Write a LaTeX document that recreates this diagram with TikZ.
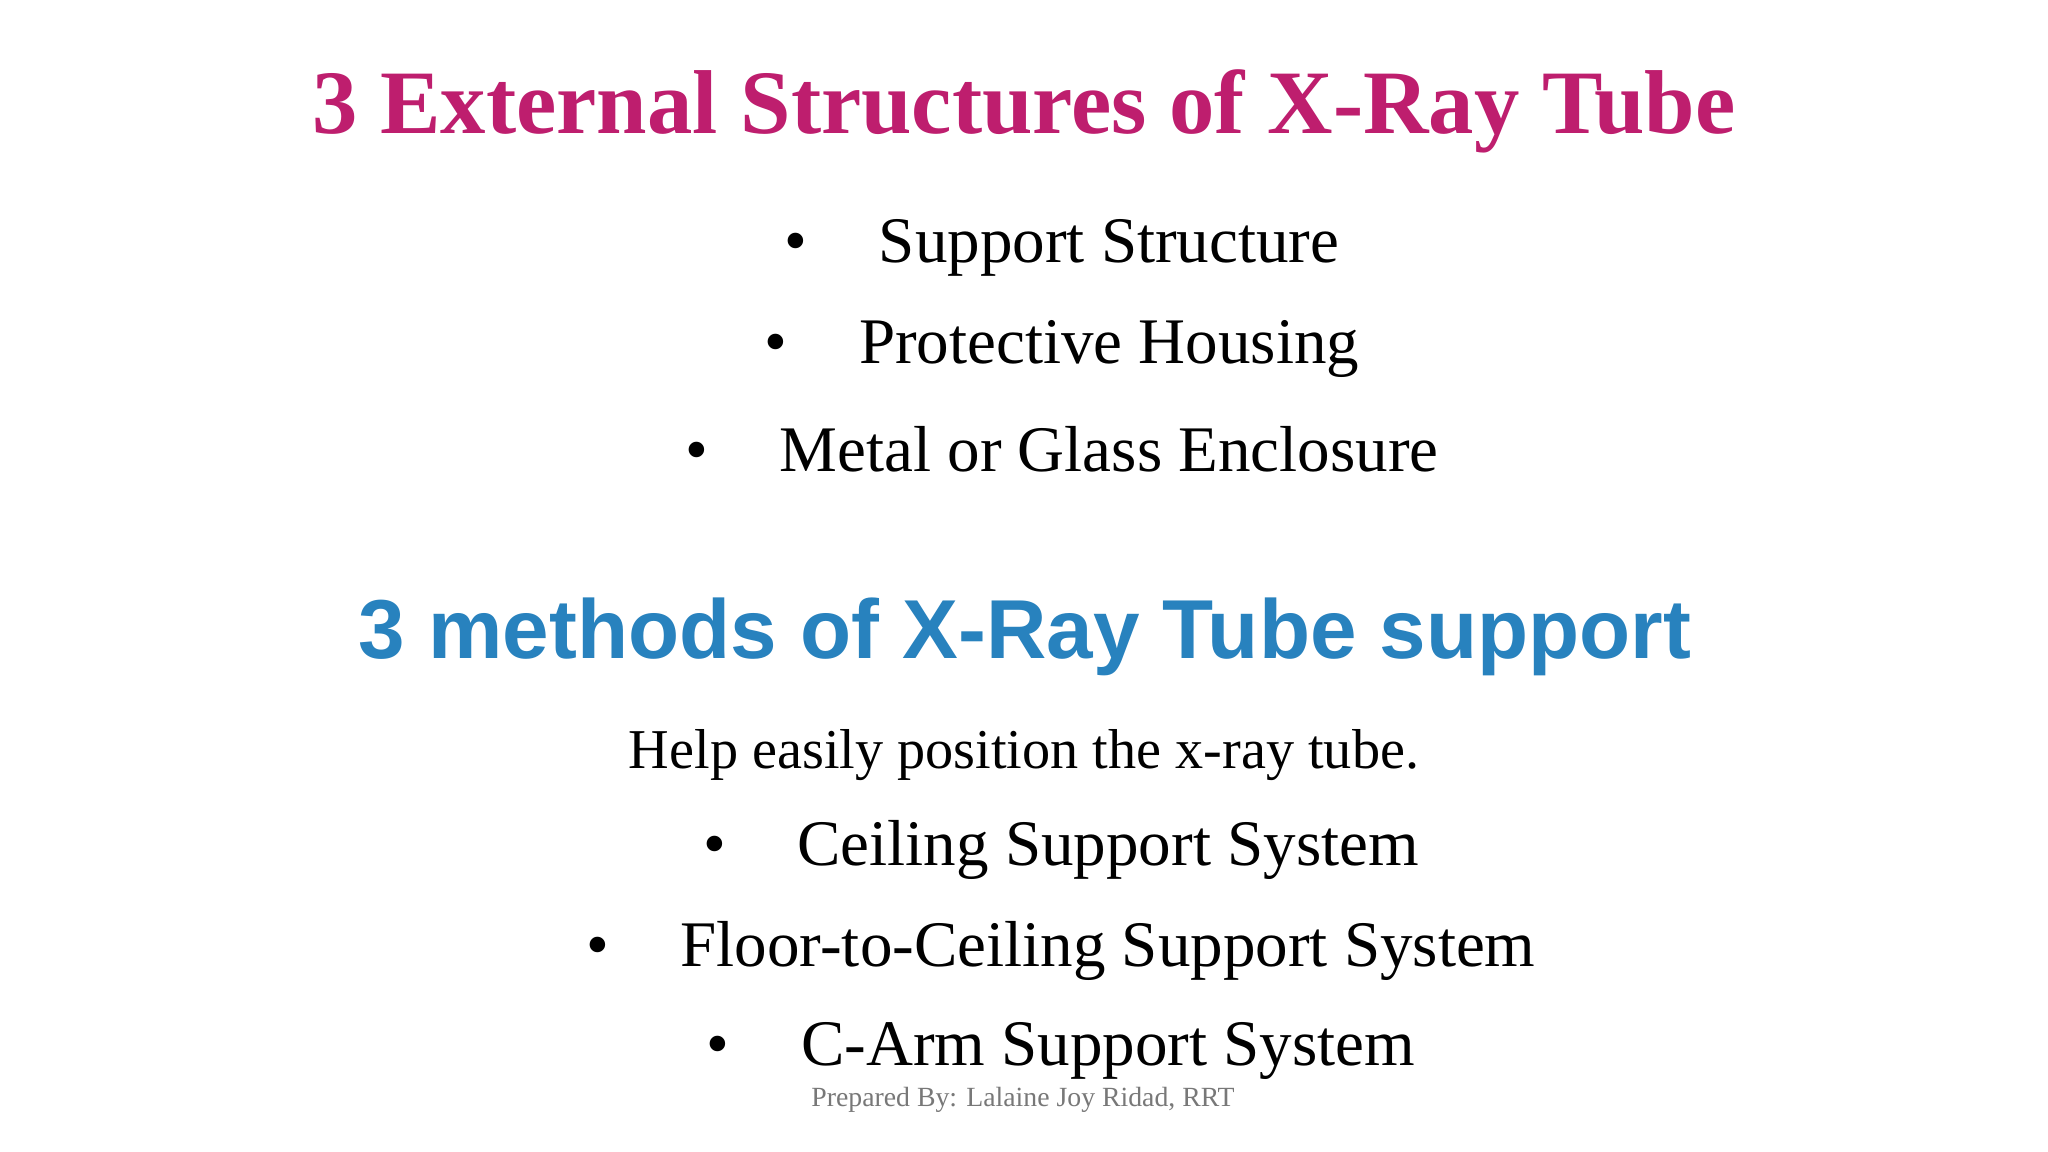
\documentclass[tikz,border=0pt]{standalone}
\usepackage{fontspec}
\setmainfont{Liberation Serif}
\setsansfont{Liberation Sans}
\usepackage{xcolor}
\definecolor{titlered}{RGB}{190,30,110}
\definecolor{titleblue}{RGB}{40,130,190}
\definecolor{footgray}{RGB}{120,120,120}
\begin{document}
\begin{tikzpicture}[
  heading/.style={font=\bfseries\fontsize{25.8}{30}\selectfont,text=titlered},
  subheading/.style={font=\sffamily\bfseries\fontsize{23.8}{28}\selectfont,text=titleblue},
  item/.style={font=\fontsize{18.5}{22}\selectfont},
  footnote/.style={font=\fontsize{7.9}{10}\selectfont,text=footgray}]
  % Fondo
  \fill[white] (0,0) rectangle (20.48,11.52);
  \useasboundingbox (0,0) rectangle (20.48,11.52);

  % Estructuras externas
  \node[heading] (title) at (10.24,10.41) {3 External Structures of X-Ray Tube};
  \node[item] (support) at (10.62,9.04) {\textbullet\hspace{1.1em}Support Structure};
  \node[item] (housing) at (10.62,8.03) {\textbullet\hspace{1.1em}Protective Housing};
  \node[item] (enclosure) at (10.62,7.03) {\textbullet\hspace{1.1em}Metal or Glass Enclosure};

  % Métodos de soporte
  \node[subheading] (methods) at (10.25,5.15) {3 methods of X-Ray Tube support};
  \node[item,font=\fontsize{16}{19}\selectfont] (help) at (10.24,3.97) {Help easily position the x-ray tube.};
  \node[item] (ceiling) at (10.61,3.02) {\textbullet\hspace{1.1em}Ceiling Support System};
  \node[item] (floor) at (10.61,2.01) {\textbullet\hspace{1.1em}Floor-to-Ceiling Support System};
  \node[item] (carm) at (10.61,1.01) {\textbullet\hspace{1.1em}C-Arm Support System};
  \node[footnote] (author) at (10.23,0.52) {Prepared By: Lalaine Joy Ridad, RRT};
\end{tikzpicture}
\end{document}
